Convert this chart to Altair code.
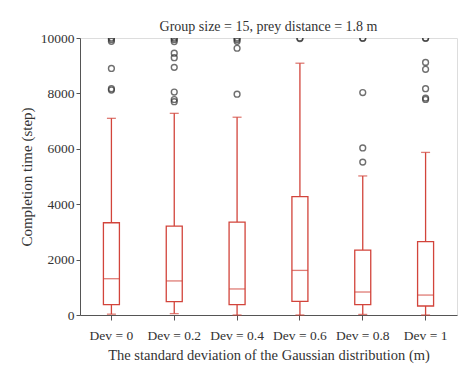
import altair as alt
import pandas as pd

categories = ["Dev = 0", "Dev = 0.2", "Dev = 0.4", "Dev = 0.6", "Dev = 0.8", "Dev = 1"]
whisker_low = [30, 50, 0, 0, 20, 0]
q1 = [372, 480, 372, 490, 372, 325]
median = [1310, 1230, 940, 1610, 830, 720]
q3 = [3330, 3210, 3350, 4270, 2340, 2650]
whisker_high = [7100, 7280, 7140, 9090, 5020, 5870]
outliers = [
    [10000, 9950, 9880, 8900, 8170, 8120],
    [10000, 9950, 9870, 9450, 9290, 8940, 8050, 7780, 7700],
    [10000, 9950, 9880, 9630, 7970],
    [10000, 9980],
    [10000, 9990, 8030, 6030, 5520],
    [10000, 9990, 9120, 8870, 8170, 7830, 7780],
]

RED = "#d2443b"
FONT = "Liberation Serif"

stats = pd.DataFrame({
    "cat": categories,
    "lo": whisker_low,
    "q1": q1,
    "med": median,
    "q3": q3,
    "hi": whisker_high,
})
out_rows = [{"cat": c, "v": v} for c, vals in zip(categories, outliers) for v in vals]
outdf = pd.DataFrame(out_rows)

xenc = alt.X("cat:N", sort=categories,
             scale=alt.Scale(paddingInner=0, paddingOuter=0),
             axis=alt.Axis(title="The standard deviation of the Gaussian distribution (m)",
                           labelAngle=0, labelFontSize=13.5, titleFontSize=14.5,
                           labelFont=FONT, titleFont=FONT, labelColor="#333", titleColor="#333",
                           titleFontWeight="normal", tickColor="#555", tickSize=5,
                           domainColor="#555", labelPadding=8, titlePadding=7))
yscale = alt.Scale(domain=[0, 10000], nice=False)
yaxis = alt.Axis(title="Completion time (step)", values=[0, 2000, 4000, 6000, 8000, 10000],
                 format="d",
                 grid=False, labelFontSize=13.5, titleFontSize=15, labelFont=FONT, titleFont=FONT,
                 labelColor="#333", titleColor="#333", titleFontWeight="normal",
                 tickColor="#555", tickSize=4, domainColor="#555", titlePadding=6)

base = alt.Chart(stats)

whisk_up = base.mark_rule(color=RED, strokeWidth=1.3).encode(
    x=xenc, y=alt.Y("q3:Q", scale=yscale, axis=yaxis), y2="hi:Q")
whisk_dn = base.mark_rule(color=RED, strokeWidth=1.3).encode(
    x=xenc, y=alt.Y("lo:Q", scale=yscale), y2="q1:Q")
box = base.mark_bar(size=16, fill="white", stroke=RED, strokeWidth=1.3).encode(
    x=xenc, y=alt.Y("q1:Q", scale=yscale), y2="q3:Q")
med = base.mark_tick(size=16, color=RED, thickness=1.3).encode(
    x=xenc, y=alt.Y("med:Q", scale=yscale))
cap_hi = base.mark_tick(size=9, color=RED, thickness=1.3).encode(
    x=xenc, y=alt.Y("hi:Q", scale=yscale))
cap_lo = base.mark_tick(size=9, color=RED, thickness=1.3).encode(
    x=xenc, y=alt.Y("lo:Q", scale=yscale))
pts = alt.Chart(outdf).mark_point(shape="circle", filled=False, size=34, color="#333",
                                  strokeWidth=1.4, clip=True).encode(
    x=xenc, y=alt.Y("v:Q", scale=yscale))

chart = alt.layer(whisk_up, whisk_dn, box, med, cap_hi, cap_lo, pts).properties(
    width=377, height=277,
    title=alt.TitleParams("Group size = 15, prey distance = 1.8 m", font=FONT, fontSize=14,
                          fontWeight="normal", color="#333", offset=0, dy=3),
    autosize=alt.AutoSizeParams(type="none"),
    padding={"left": 72, "top": 30, "right": 9, "bottom": 60},
).configure_view(stroke="#555", strokeWidth=1).configure(background="white")

chart.save("out.html", embed_options={"renderer": "svg", "actions": False})
